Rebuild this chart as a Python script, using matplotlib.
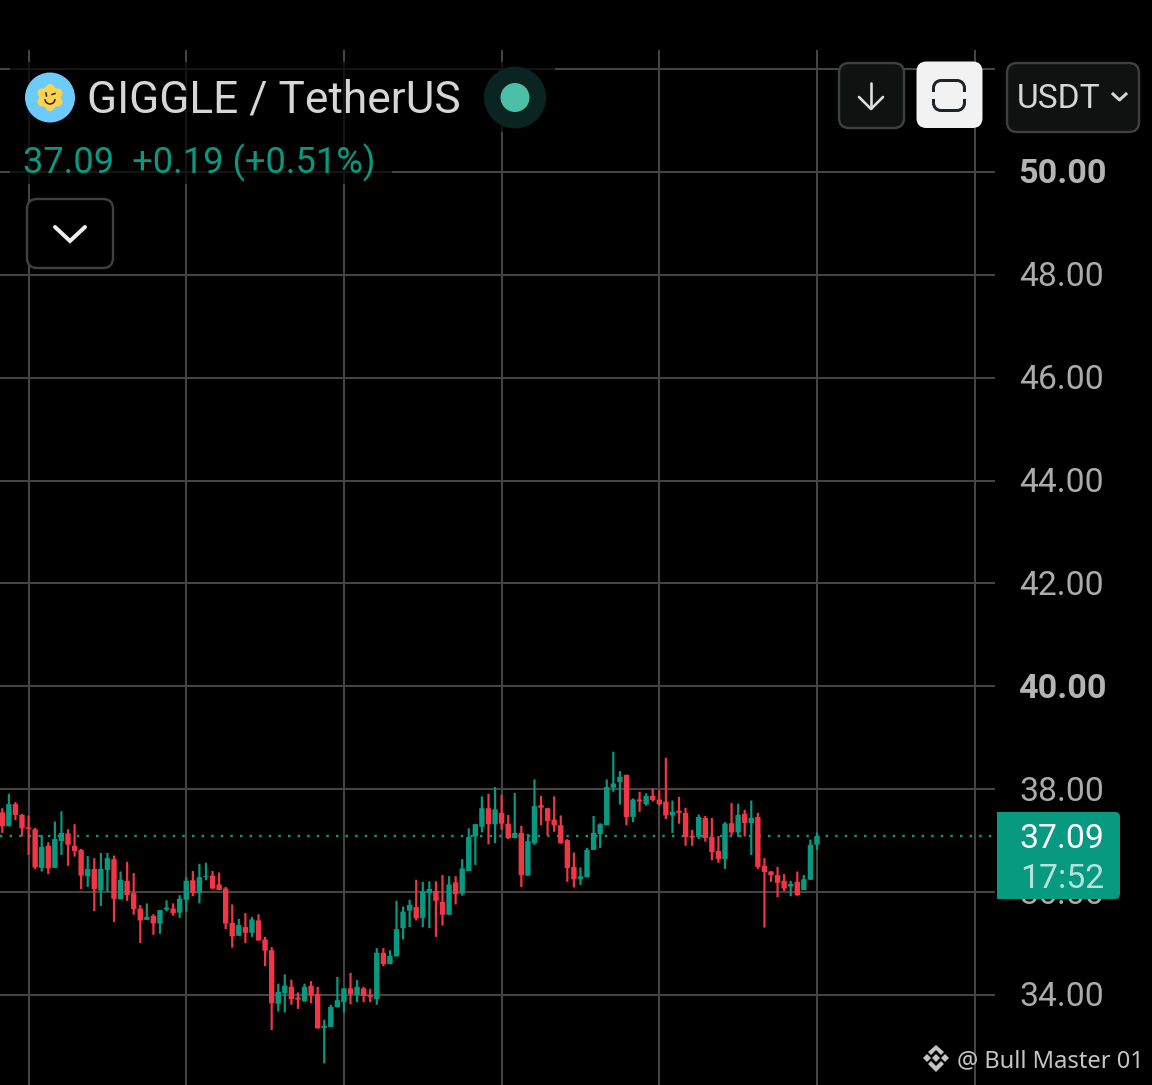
import matplotlib
matplotlib.use("Agg")
import matplotlib.pyplot as plt
from matplotlib.patches import Circle, FancyBboxPatch, Polygon, Rectangle, Arc

# GIGGLE / TetherUS candles
opens = [37.55, 37.28, 37.71, 37.50, 37.26, 37.22, 36.47, 36.90, 36.47, 36.99,
         37.14, 36.90, 36.82, 36.31, 36.45, 36.03, 36.43, 36.64, 35.86, 36.22,
         35.98, 35.68, 35.46, 35.54, 35.39, 35.66, 35.68, 35.60, 35.85, 36.23,
         35.98, 36.29, 36.32, 36.15, 36.07, 35.40, 35.15, 35.32, 35.21, 35.45,
         35.08, 34.87, 33.83, 34.04, 34.16, 33.95, 33.88, 34.18, 34.02, 33.36,
         33.38, 33.76, 33.86, 34.13, 34.00, 34.13, 33.99, 33.92, 34.82, 34.60,
         34.75, 35.30, 35.64, 35.71, 35.50, 35.98, 36.02, 35.81, 35.56, 36.19,
         35.97, 36.41, 37.08, 37.27, 37.63, 37.32, 37.54, 37.33, 37.05, 37.15,
         36.32, 36.95, 37.69, 37.63, 37.41, 37.30, 37.01, 36.49, 36.25, 36.29,
         36.82, 37.13, 37.30, 38.03, 38.14, 38.28, 37.46, 37.80, 37.71, 37.87,
         37.80, 37.76, 37.49, 37.58, 37.54, 37.09, 37.07, 37.44, 37.07, 36.80,
         36.64, 37.34, 37.16, 37.52, 37.34, 37.46, 36.51, 36.40, 36.33, 36.22,
         36.11, 36.20, 36.04, 36.24, 36.92]
closes = [37.28, 37.71, 37.50, 37.24, 37.23, 36.48, 36.88, 36.46, 37.03, 37.15,
          36.92, 36.80, 36.32, 36.45, 36.06, 36.45, 36.66, 35.87, 36.24, 35.94,
          35.67, 35.45, 35.52, 35.39, 35.65, 35.70, 35.59, 35.87, 36.22, 35.98,
          36.29, 36.31, 36.07, 36.04, 35.39, 35.14, 35.36, 35.21, 35.47, 35.06,
          34.86, 33.84, 34.06, 34.18, 33.92, 33.91, 34.16, 33.99, 33.35, 33.40,
          33.77, 33.90, 34.13, 34.02, 34.16, 33.98, 33.96, 34.82, 34.60, 34.76,
          35.28, 35.62, 35.75, 35.49, 36.02, 36.06, 35.83, 35.56, 36.15, 35.96,
          36.46, 37.07, 37.32, 37.63, 37.32, 37.61, 37.33, 37.05, 37.15, 36.33,
          36.99, 37.67, 37.64, 37.38, 37.30, 36.95, 36.47, 36.25, 36.31, 36.82,
          37.15, 37.32, 38.04, 38.11, 38.24, 37.46, 37.80, 37.76, 37.87, 37.79,
          37.71, 37.49, 37.56, 37.54, 37.07, 37.06, 37.46, 37.05, 36.78, 36.64,
          37.33, 37.16, 37.50, 37.34, 37.44, 36.49, 36.39, 36.33, 36.18, 36.07,
          36.16, 35.94, 36.25, 36.92, 37.09]
highs = [37.63, 37.91, 37.75, 37.52, 37.49, 37.25, 37.11, 36.97, 37.37, 37.57,
         37.22, 37.32, 36.84, 36.70, 36.66, 36.76, 36.76, 36.71, 36.40, 36.59,
         36.37, 35.75, 35.78, 35.57, 35.65, 35.84, 35.78, 35.94, 36.29, 36.41,
         36.55, 36.57, 36.41, 36.38, 36.10, 35.76, 35.48, 35.59, 35.52, 35.57,
         35.13, 34.93, 34.22, 34.40, 34.30, 34.05, 34.22, 34.27, 34.16, 33.52,
         33.81, 34.35, 34.13, 34.43, 34.29, 34.16, 34.12, 34.91, 34.91, 34.87,
         35.83, 35.72, 35.85, 36.24, 36.20, 36.21, 36.21, 36.33, 36.31, 36.31,
         36.64, 37.24, 37.32, 37.86, 37.91, 38.04, 37.89, 37.50, 37.93, 37.29,
         37.13, 38.19, 37.87, 37.64, 37.86, 37.49, 37.03, 36.77, 36.48, 36.86,
         37.48, 37.34, 38.19, 38.73, 38.35, 38.28, 37.82, 37.95, 37.92, 38.01,
         37.98, 38.61, 37.78, 37.85, 37.64, 37.21, 37.51, 37.48, 37.44, 37.09,
         37.36, 37.73, 37.72, 37.60, 37.78, 37.54, 36.66, 36.41, 36.49, 36.35,
         36.22, 36.40, 36.33, 37.02, 37.16]
lows = [37.15, 37.28, 37.40, 37.08, 36.72, 36.45, 36.40, 36.35, 36.47, 36.72,
        36.51, 36.69, 36.06, 36.10, 35.63, 35.73, 36.00, 35.42, 35.86, 35.83,
        35.56, 35.01, 35.46, 35.17, 35.19, 35.63, 35.54, 35.50, 35.62, 35.92,
        35.78, 36.23, 36.06, 36.04, 35.28, 34.92, 35.15, 35.01, 35.13, 35.06,
        34.56, 33.32, 33.68, 33.66, 33.81, 33.73, 33.87, 33.84, 33.35, 32.67,
        33.38, 33.76, 33.66, 33.82, 33.86, 33.86, 33.86, 33.81, 34.56, 34.60,
        34.75, 35.08, 35.32, 35.45, 35.32, 35.30, 35.13, 35.35, 35.56, 35.76,
        35.93, 36.41, 36.53, 37.16, 36.93, 36.95, 37.21, 37.03, 37.05, 36.10,
        36.32, 36.92, 37.30, 37.10, 37.17, 36.94, 36.20, 36.09, 36.14, 36.29,
        36.82, 36.86, 37.30, 37.95, 37.70, 37.30, 37.36, 37.56, 37.68, 37.76,
        37.68, 37.42, 37.15, 37.33, 36.90, 36.90, 37.03, 36.98, 36.62, 36.57,
        36.45, 37.11, 37.07, 37.08, 36.72, 36.45, 35.31, 36.20, 35.90, 36.02,
        35.92, 35.93, 36.04, 36.24, 36.82]

price_ticks = [34, 36, 38, 40, 42, 44, 46, 48, 50]
bold_ticks = [40, 50]
grid_prices = [34, 36, 38, 40, 42, 44, 46, 48, 50, 52]
grid_candles = [4, 28, 52, 76, 100, 124, 148]
last_price = 37.09
countdown = "17:52"

GREEN = "#089981"
RED = "#f23645"
GRID = "#444444"
W, H = 1152, 1085
PX_PER_CANDLE = 6.57
PX_PER_UNIT = 51.45
PX = 0.72  # points per pixel at dpi 100

plt.rcParams["font.family"] = ["Roboto", "DejaVu Sans"]
fig = plt.figure(figsize=(W / 100, H / 100), dpi=100, facecolor="black")

# price chart, filling the figure
ax = fig.add_axes([0, 0, 1, 1], facecolor="black")
ax.set_xlim(-2.3 / PX_PER_CANDLE, (W - 2.3) / PX_PER_CANDLE)
ax.set_ylim(34 - (H - 995) / PX_PER_UNIT, 34 + 995 / PX_PER_UNIT)
ax.axis("off")

ytrans = ax.get_yaxis_transform()
ax.hlines(grid_prices, 0, 995 / W, transform=ytrans, color=GRID, lw=2 * PX, zorder=1)
ax.vlines(grid_candles, ax.get_ylim()[0], 52.37, color=GRID, lw=2 * PX, zorder=1)
ax.hlines(last_price, 0, 997 / W, transform=ytrans, color=GREEN, lw=2.4 * PX,
          linestyles=(0, (1, 3)), zorder=2)

# no snapping here, otherwise the bodies come out 4 or 6 px wide in turn
for i in range(len(opens)):
    color = GREEN if closes[i] >= opens[i] else RED
    ax.vlines(i, lows[i], highs[i], color=color, lw=2.2 * PX, zorder=3, snap=False)
    ax.bar(i, abs(closes[i] - opens[i]), bottom=min(opens[i], closes[i]),
           width=0.82, color=color, linewidth=0, zorder=3, snap=False)

for p in price_ticks:
    is_bold = p in bold_ticks
    ax.text(1062 / W, p + 0.02, f"{p:.2f}", transform=ytrans, ha="center", va="center_baseline",
            color="#b4b4b4" if is_bold else "#ababab", fontsize=(34.2 if is_bold else 33.8) * PX,
            fontweight="bold" if is_bold else "normal", zorder=4)

# interface on top, in pixel coordinates
ui = fig.add_axes([0, 0, 1, 1])
ui.set_xlim(0, W)
ui.set_ylim(H, 0)
ui.axis("off")
ui.patch.set_alpha(0)


def button(x0, y0, x1, y1, fc, ec, r=10, lw=2.4):
    ui.add_patch(FancyBboxPatch((x0 + r, y0 + r), x1 - x0 - 2 * r, y1 - y0 - 2 * r,
                                boxstyle=f"round,pad={r},rounding_size={r}",
                                fc=fc, ec=ec, lw=lw * PX))


# legend backdrop dims the grid behind it
ui.add_patch(Rectangle((10, 62), 545, 70, fc="black", alpha=0.7, lw=0))
ui.add_patch(Rectangle((10, 132), 382, 52, fc="black", alpha=0.7, lw=0))

# coin icon
ui.add_patch(Circle((50, 97.5), 25, fc="#6ccbfb", lw=0))
ui.add_patch(Circle((50, 97.5), 11, fc="#fdd34e", lw=0))
for dx, dy in [(0, -9), (8, -4.5), (8, 4.5), (0, 9), (-8, 4.5), (-8, -4.5)]:
    ui.add_patch(Circle((50 + dx, 97.5 + dy), 4.5, fc="#fdd34e", lw=0))
ui.add_patch(Arc((50, 99), 10, 10, theta1=0, theta2=180, color="#222222", lw=1.1))
ui.plot([46, 46.5], [93, 96], color="#222222", lw=1.1)
ui.plot([52, 55], [94.5, 93.5], color="#222222", lw=1.1)

ui.text(87, 96, "GIGGLE / TetherUS", color="#d6d6d6", fontsize=44.3 * PX,
        ha="left", va="center_baseline")
ui.add_patch(Circle((515, 97.5), 31, fc="#0a2521", lw=0))
ui.add_patch(Circle((515, 97.5), 14.5, fc="#4bbfa8", lw=0))
ui.text(23, 159, f"{last_price:.2f}  +0.19 (+0.51%)", color=GREEN, fontsize=36.3 * PX,
        ha="left", va="center_baseline")

# collapse button
button(27, 199, 113, 268, "black", "#404040")
ui.plot([55, 70, 85], [227, 241, 227], color="#eeeeee", lw=4 * PX, solid_capstyle="round",
        solid_joinstyle="miter")

# top right buttons
button(839, 63, 904, 128, "#101212", "#3f3f3f")
ui.plot([871, 871], [83, 108], color="#e0e0e0", lw=2.6 * PX, solid_capstyle="round")
ui.plot([859, 871, 883], [97, 109, 97], color="#e0e0e0", lw=2.6 * PX, solid_capstyle="round")

button(916.5, 61.5, 982.5, 128, "#f2f2f2", "#f2f2f2", lw=0)
ICON = "#1e2329"
for cx, cy, t1, t2 in [(941, 88, 180, 270), (957, 88, 270, 360), (941, 103, 90, 180), (957, 103, 0, 90)]:
    ui.add_patch(Arc((cx, cy), 15, 15, theta1=t1, theta2=t2, color=ICON, lw=3 * PX, snap=False))
for xs, ys in [([941, 957], [80.5, 80.5]), ([941, 957], [110.5, 110.5]),
               ([933.5, 933.5], [88, 92]), ([964.5, 964.5], [88, 92]),
               ([933.5, 933.5], [99, 103]), ([964.5, 964.5], [99, 103])]:
    ui.plot(xs, ys, color=ICON, lw=3 * PX, snap=False, solid_capstyle="butt")

button(1007, 63, 1139, 132, "#101212", "#3f3f3f")
ui.text(1016.5, 95, "USDT", color="#d6d6d6", fontsize=33.5 * PX, ha="left", va="center_baseline")
ui.plot([1113, 1119.5, 1126], [94, 100, 94], color="#d6d6d6", lw=3 * PX)

# last price tag
ui.add_patch(FancyBboxPatch((1000, 815), 117, 81, boxstyle="round,pad=3,rounding_size=5",
                            fc=GREEN, ec=GREEN, lw=0))
ui.add_patch(Rectangle((997, 812), 20, 87, fc=GREEN, lw=0))
ui.text(1062, 835.5, f"{last_price:.2f}", color="white", fontsize=33.8 * PX,
        ha="center", va="center_baseline")
ui.text(1062, 875.5, countdown, color="#b6e3d9", fontsize=33.8 * PX,
        ha="center", va="center_baseline")

# watermark
LOGO = "#c4c4c4"
ui.add_patch(Polygon([(923, 1058), (927, 1054), (931, 1058), (927, 1062)], fc=LOGO, lw=0))
ui.add_patch(Polygon([(941, 1058), (945, 1054), (949, 1058), (945, 1062)], fc=LOGO, lw=0))
ui.add_patch(Polygon([(932, 1058), (936, 1054), (940, 1058), (936, 1062)], fc=LOGO, lw=0))
ui.add_patch(Polygon([(928, 1052), (936, 1045), (944, 1052), (941, 1055), (936, 1050), (931, 1055)],
                     fc=LOGO, lw=0))
ui.add_patch(Polygon([(928, 1064), (936, 1072), (944, 1064), (941, 1061), (936, 1066), (931, 1061)],
                     fc=LOGO, lw=0))
ui.text(957, 1058, "@ Bull Master 01", color="#c4c4c4", family=["Noto Sans", "DejaVu Sans"],
        fontsize=23.7 * PX, ha="left", va="center_baseline")

fig.savefig("out.png", dpi=100, facecolor="black")
